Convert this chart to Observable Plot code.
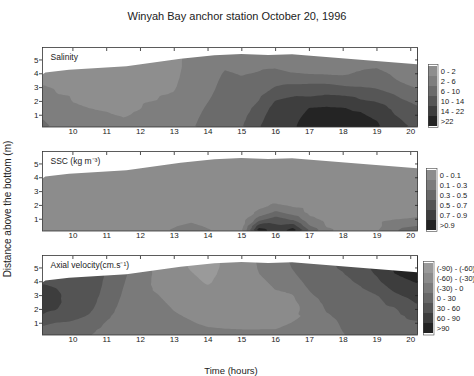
<!DOCTYPE html>
<html>
<head>
<meta charset="utf-8">
<script src="https://cdn.jsdelivr.net/npm/d3@7"></script>
<script src="https://cdn.jsdelivr.net/npm/@observablehq/plot@0.6"></script>
<style>
  body { margin: 0; background: #fff; }
  #chart { position: relative; width: 474px; height: 376px; overflow: hidden; font-family: "Liberation Sans", Arial, sans-serif; color: #222; background: #fff; }
  #chart svg { position: absolute; left: 0; overflow: visible; }
  .lab { position: absolute; white-space: nowrap; }
</style>
</head>
<body>
<div id="chart">
  <div class="lab" style="left:0;width:474px;top:10px;text-align:center;font-size:11px;">Winyah Bay anchor station October 20, 1996</div>
  <div class="lab" style="left:7px;top:209px;transform:translate(-50%,-50%) rotate(-90deg);font-size:10px;">Distance above the bottom (m)</div>
  <div class="lab" style="left:231px;top:370px;transform:translate(-50%,-50%);font-size:9.5px;">Time (hours)</div>
</div>
<script>
// ---------- data ----------
const TIMES = [9.1, 9.5, 10, 10.5, 11, 11.5, 12, 12.5, 13, 13.5, 14, 14.5, 15, 15.5, 16, 16.5, 17, 17.5, 18, 18.5, 19, 19.5, 20.2];
const DEPTHS = [5.9, 5.5, 5, 4.5, 4, 3.5, 3, 2.5, 2, 1.5, 1, 0.5, 0.15];
const TICK_HOURS = [10, 11, 12, 13, 14, 15, 16, 17, 18, 19, 20];
const DEPTH_TICKS = [1, 2, 3, 4, 5];
const T_RANGE = [9.1, 20.2];
const D_RANGE = [0.15, 5.9];

// water surface (distance above bottom)
const SURF_T = [9.1, 9.2, 9.9, 11.6, 13.2, 14.2, 15.0, 15.8, 16.5, 18.8, 20.2];
const SURF_D = [3.9, 4.05, 4.25, 4.5, 5.05, 5.3, 5.4, 5.33, 5.37, 4.93, 4.65];

// salinity profiles, one per time (values at DEPTHS)
const SALINITY = [
  [1.0, 1.2, 1.4, 1.5, 1.7, 1.85, 2.1, 2.9, 3.8, 4.7, 5.5, 6.4, 7.0],
  [1.0, 1.1, 1.2, 1.4, 1.5, 1.7, 1.85, 2.05, 2.8, 3.5, 4.2, 4.8, 5.2],
  [1.0, 1.0, 1.1, 1.2, 1.3, 1.5, 1.6, 1.8, 1.95, 2.4, 3.3, 4.1, 4.7],
  [1.0, 1.0, 1.0, 1.1, 1.2, 1.3, 1.4, 1.6, 1.8, 1.98, 2.8, 3.7, 4.3],
  [1.0, 1.0, 1.0, 1.0, 1.1, 1.2, 1.3, 1.4, 1.6, 1.8, 2.2, 3.1, 3.7],
  [1.0, 1.0, 1.0, 1.0, 1.0, 1.1, 1.2, 1.3, 1.4, 1.6, 1.8, 2.4, 3.0],
  [1.0, 1.0, 1.0, 1.0, 1.1, 1.2, 1.4, 1.6, 1.8, 1.95, 2.3, 3.2, 3.9],
  [1.0, 1.0, 1.1, 1.2, 1.3, 1.5, 1.7, 1.85, 2.05, 2.9, 3.8, 4.8, 5.5],
  [1.4, 1.4, 1.5, 1.5, 1.6, 1.7, 1.85, 2.1, 2.8, 3.5, 4.2, 4.8, 5.3],
  [2.5, 2.5, 2.6, 2.6, 2.7, 2.9, 3.2, 3.6, 4.0, 4.4, 4.8, 5.2, 5.5],
  [3.0, 3.2, 3.5, 3.8, 4.1, 4.5, 4.9, 5.4, 5.95, 6.5, 7.0, 7.5, 7.8],
  [3.5, 4.0, 4.8, 5.6, 6.4, 6.9, 7.3, 7.7, 8.1, 8.5, 8.9, 9.3, 9.6],
  [3.6, 4.0, 4.6, 5.2, 5.8, 6.4, 7.0, 7.6, 8.2, 8.7, 9.1, 9.5, 9.8],
  [3.8, 4.3, 5.0, 5.6, 6.2, 7.2, 8.2, 9.2, 10.1, 11.0, 11.9, 12.8, 13.6],
  [4.0, 4.5, 5.1, 5.7, 6.9, 8.6, 10.3, 12.2, 14.3, 15.8, 17.0, 18.0, 18.5],
  [4.0, 4.4, 4.9, 5.4, 6.1, 8.8, 11.2, 13.3, 15.5, 17.3, 19.0, 20.5, 21.0],
  [4.0, 4.4, 4.8, 5.3, 5.8, 9.0, 11.2, 13.0, 16.4, 22.3, 24.0, 25.0, 25.5],
  [4.0, 4.4, 4.8, 5.2, 5.7, 8.8, 11.4, 13.8, 18.5, 23.0, 24.5, 25.5, 26.0],
  [4.0, 4.4, 4.8, 5.2, 5.6, 7.5, 10.8, 13.3, 17.2, 22.5, 24.0, 25.0, 25.5],
  [4.2, 4.6, 5.1, 5.6, 6.3, 8.2, 10.3, 12.4, 14.7, 20.5, 23.5, 24.5, 25.0],
  [4.2, 4.6, 5.2, 5.8, 6.8, 8.2, 9.7, 11.5, 13.6, 16.5, 19.5, 22.5, 23.5],
  [4.0, 4.4, 4.9, 5.3, 5.7, 6.2, 8.0, 10.05, 11.6, 12.9, 14.2, 15.2, 16.0],
  [3.5, 3.7, 3.9, 4.2, 4.6, 5.1, 5.7, 6.9, 9.0, 10.6, 11.6, 12.4, 13.0]
];

// suspended sediment concentration profiles (kg m-3)
const SSC = [
  [0.05, 0.05, 0.05, 0.05, 0.05, 0.05, 0.05, 0.05, 0.05, 0.05, 0.05, 0.05, 0.05],
  [0.05, 0.05, 0.05, 0.05, 0.05, 0.05, 0.05, 0.05, 0.05, 0.05, 0.05, 0.05, 0.05],
  [0.05, 0.05, 0.05, 0.05, 0.05, 0.05, 0.05, 0.05, 0.05, 0.05, 0.05, 0.05, 0.05],
  [0.05, 0.05, 0.05, 0.05, 0.05, 0.05, 0.05, 0.05, 0.05, 0.05, 0.05, 0.05, 0.05],
  [0.05, 0.05, 0.05, 0.05, 0.05, 0.05, 0.05, 0.05, 0.05, 0.05, 0.05, 0.05, 0.05],
  [0.05, 0.05, 0.05, 0.05, 0.05, 0.05, 0.05, 0.05, 0.05, 0.05, 0.05, 0.05, 0.05],
  [0.05, 0.05, 0.05, 0.05, 0.05, 0.05, 0.05, 0.05, 0.05, 0.05, 0.05, 0.05, 0.05],
  [0.05, 0.05, 0.05, 0.05, 0.05, 0.05, 0.05, 0.05, 0.05, 0.05, 0.05, 0.05, 0.05],
  [0.05, 0.05, 0.05, 0.05, 0.05, 0.05, 0.05, 0.05, 0.05, 0.05, 0.06, 0.09, 0.12],
  [0.05, 0.05, 0.05, 0.05, 0.05, 0.05, 0.05, 0.05, 0.05, 0.05, 0.06, 0.14, 0.20],
  [0.05, 0.05, 0.05, 0.05, 0.05, 0.05, 0.05, 0.05, 0.05, 0.05, 0.05, 0.08, 0.12],
  [0.05, 0.05, 0.05, 0.05, 0.05, 0.05, 0.05, 0.05, 0.05, 0.05, 0.05, 0.05, 0.05],
  [0.04, 0.04, 0.04, 0.04, 0.04, 0.04, 0.04, 0.04, 0.03, 0.02, 0.02, 0.04, 0.08],
  [0.04, 0.04, 0.04, 0.04, 0.04, 0.04, 0.04, 0.04, 0.06, 0.13, 0.40, 0.80, 1.05],
  [0.04, 0.04, 0.04, 0.04, 0.04, 0.04, 0.04, 0.05, 0.12, 0.34, 0.60, 0.74, 0.75],
  [0.04, 0.04, 0.04, 0.04, 0.04, 0.04, 0.04, 0.04, 0.07, 0.20, 0.47, 0.82, 1.05],
  [0.05, 0.05, 0.05, 0.05, 0.05, 0.05, 0.05, 0.05, 0.04, 0.06, 0.13, 0.32, 0.52],
  [0.05, 0.05, 0.05, 0.05, 0.05, 0.05, 0.05, 0.05, 0.05, 0.05, 0.05, 0.09, 0.14],
  [0.05, 0.05, 0.05, 0.05, 0.05, 0.05, 0.05, 0.05, 0.05, 0.05, 0.05, 0.05, 0.05],
  [0.05, 0.05, 0.05, 0.05, 0.05, 0.05, 0.05, 0.05, 0.05, 0.05, 0.05, 0.05, 0.05],
  [0.05, 0.05, 0.05, 0.05, 0.05, 0.05, 0.05, 0.05, 0.05, 0.05, 0.05, 0.05, 0.09],
  [0.05, 0.05, 0.05, 0.05, 0.05, 0.05, 0.05, 0.05, 0.05, 0.05, 0.09, 0.22, 0.28],
  [0.05, 0.05, 0.05, 0.05, 0.05, 0.05, 0.05, 0.05, 0.05, 0.06, 0.12, 0.31, 0.45]
];

// axial velocity profiles (cm/s)
const VELOCITY = [
  [50, 50, 52, 54, 58, 64, 70, 72, 66, 58, 36, 22, 15],
  [48, 48, 50, 52, 55, 60.5, 64, 65, 61, 48, 28, 16, 10],
  [45, 45, 45, 46, 48, 50, 52, 50, 46, 38, 25, 15, 10],
  [42, 42, 42, 42, 42, 42, 40, 38, 34, 27, 15, 5, 1],
  [30, 30, 29, 28, 26, 24, 22, 18, 12, 5, -3, -8, -10],
  [12, 10, 8, 5, 2, -1, -4, -8, -12, -15, -17, -18, -18],
  [-15, -16, -17, -19, -21, -22, -22, -21, -20, -19, -18, -17, -16],
  [-36, -36, -35, -35, -35, -33, -29, -25, -22, -20, -19, -18, -17],
  [-52, -52, -50, -47, -44, -41, -38, -35, -31, -27, -24, -22, -21],
  [-66, -65, -62, -58, -54, -50, -46, -42, -38, -33, -28, -24, -22],
  [-72, -72, -70, -67, -63, -57, -53, -50, -47, -42, -35, -26, -22],
  [-56, -56, -55, -53, -52, -50, -48, -46, -44, -41, -37, -28, -24],
  [-50, -50, -49, -48, -47, -46, -45, -44, -43, -41, -38, -29, -25],
  [-24, -26, -28, -31, -36, -40, -42, -43, -43, -42, -38, -29, -26],
  [-12, -14, -16, -19, -24, -29, -34, -38, -40, -40, -37, -29, -24],
  [6, 4, 1, -4, -10, -20, -32, -37, -38, -35, -29, -22, -18],
  [22, 20, 17, 12, 7, 2, -4, -12, -20, -25, -26, -24, -22],
  [27, 26, 25, 22, 18, 14, 10, 6, 2, -3, -8, -12, -14],
  [38, 36, 33, 28, 24, 20, 16, 12, 9, 6, 3, 1, -1],
  [57, 56, 52, 44, 34, 27, 22, 18, 15, 12, 10, 8, 7],
  [72, 70, 66, 62, 54, 43, 29, 24, 20, 17, 14, 12, 11],
  [96, 95, 93, 89, 80, 66, 53, 38, 26, 21, 18, 16, 15],
  [100, 100, 98, 96, 92, 84, 74, 63, 52, 40, 25, 18, 15]
];

// classes
const SAL_BREAKS = [2, 6, 10, 14, 22];
const SAL_LABELS = ["0 - 2", "2 - 6", "6 - 10", "10 - 14", "14 - 22", ">22"];
const SAL_GREYS = ["#8e8e8e", "#7e7e7e", "#6b6b6b", "#565656", "#3e3e3e", "#242424"];

const SSC_BREAKS = [0.1, 0.3, 0.5, 0.7, 0.9];
const SSC_LABELS = ["0 - 0.1", "0.1 - 0.3", "0.3 - 0.5", "0.5 - 0.7", "0.7 - 0.9", ">0.9"];
const SSC_GREYS = ["#8c8c8c", "#7b7b7b", "#686868", "#545454", "#3d3d3d", "#222222"];

const VEL_BREAKS = [-60, -30, 0, 30, 60, 90];
const VEL_LABELS = ["(-90) - (-60)", "(-60) - (-30)", "(-30) - 0", "0 - 30", "30 - 60", "60 - 90", ">90"];
const VEL_GREYS = ["#9a9a9a", "#8b8b8b", "#7a7a7a", "#686868", "#545454", "#3d3d3d", "#232323"];

// ---------- drawing ----------
const chart = document.getElementById("chart");
const FONT = "'Liberation Sans', Arial, sans-serif";
const surface = SURF_T.map((t, i) => ({t, d: SURF_D[i]}));

function grid(profiles) {
  const out = [];
  profiles.forEach((col, i) => col.forEach((v, j) => out.push({t: TIMES[i], d: DEPTHS[j], v})));
  return out;
}

function panel({values, breaks, greys, label, top}) {
  const mt = 4, mb = 14, fh = 79.5;
  const svg = Plot.plot({
    width: 474,
    height: fh + mt + mb,
    marginLeft: 42, marginRight: 57, marginTop: mt, marginBottom: mb,
    style: {fontFamily: FONT, fontSize: "8px", color: "#222", background: "transparent"},
    x: {domain: T_RANGE},
    y: {domain: D_RANGE},
    color: {type: "threshold", domain: breaks, range: greys},
    marks: [
      Plot.contour(grid(values), {
        x: "t", y: "d", fill: "v",
        thresholds: [-1e6, ...breaks],
        interpolate: "barycentric",
        stroke: "none"
      }),
      Plot.areaY(surface, {x: "t", y1: "d", y2: () => D_RANGE[1], fill: "white"}),
      Plot.frame({stroke: "#333", strokeWidth: 0.8}),
      Plot.axisY({ticks: DEPTH_TICKS, tickSize: 3, tickPadding: 1, tickFormat: d => String(d), label: null, strokeWidth: 0.8}),
      Plot.axisY({anchor: "right", ticks: DEPTH_TICKS, tickSize: -3, tickFormat: () => "", label: null, strokeWidth: 0.8}),
      Plot.axisX({anchor: "top", ticks: TICK_HOURS, tickSize: -3, tickFormat: () => "", label: null, strokeWidth: 0.8}),
      Plot.axisX({anchor: "bottom", ticks: TICK_HOURS, tickSize: 0, tickPadding: 1.5, tickFormat: d => String(d), label: null}),
      Plot.text([label], {frameAnchor: "top-left", text: d => d, dx: 8, dy: 6, fontSize: 8.5, fill: "#222"})
    ]
  });
  svg.style.top = (top - mt) + "px";
  chart.appendChild(svg);
}

function legend({labels, greys, left, top, sw}) {
  const h = 10.5 * labels.length;
  const svg = Plot.plot({
    width: 70, height: h,
    marginTop: 0, marginBottom: 0, marginLeft: 0, marginRight: 70 - sw,
    style: {fontFamily: FONT, fontSize: "7.5px", color: "#222", background: "transparent"},
    x: {type: "band", domain: ["s"], axis: null, padding: 0},
    y: {type: "band", domain: labels, axis: null, padding: 0},
    color: {type: "ordinal", domain: labels, range: greys},
    marks: [
      Plot.cell(labels, {x: () => "s", y: d => d, fill: d => d}),
      Plot.frame({stroke: "#444", strokeWidth: 0.6}),
      Plot.text(labels, {x: () => "s", y: d => d, text: d => d, textAnchor: "start", dx: sw / 2 + 3, fill: "#222"})
    ]
  });
  svg.style.left = left + "px";
  svg.style.top = top + "px";
  chart.appendChild(svg);
}

panel({values: SALINITY, breaks: SAL_BREAKS, greys: SAL_GREYS, label: "Salinity", top: 46.5});
panel({values: SSC, breaks: SSC_BREAKS, greys: SSC_GREYS, label: "SSC (kg m⁻³)", top: 151});
panel({values: VELOCITY, breaks: VEL_BREAKS, greys: VEL_GREYS, label: "Axial velocity(cm.s⁻¹)", top: 255});

legend({labels: SAL_LABELS, greys: SAL_GREYS, left: 428, top: 64, sw: 9.5});
legend({labels: SSC_LABELS, greys: SSC_GREYS, left: 425.5, top: 168, sw: 10.5});
legend({labels: VEL_LABELS, greys: VEL_GREYS, left: 422.5, top: 260.5, sw: 10.5});
</script>
</body>
</html>
